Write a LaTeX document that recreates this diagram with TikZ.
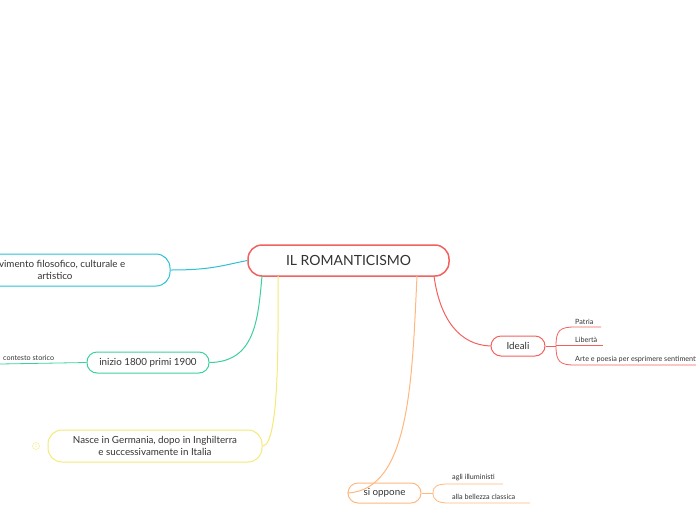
\documentclass[tikz,border=0pt]{standalone}
\usepackage{fontspec}
\setmainfont{Lato}
\definecolor{cred}{HTML}{F2615F}
\definecolor{ccyan}{HTML}{2BC0D5}
\definecolor{cgreen}{HTML}{3CCFA0}
\definecolor{cyel}{HTML}{F3EA78}
\definecolor{corg}{HTML}{FFB77E}
\definecolor{ctxt}{HTML}{333333}
\begin{document}
\begin{tikzpicture}[x=1pt,y=-1pt,
  box/.style={draw,rounded corners=11pt,line width=1pt,text=ctxt,font=\fontsize{9.8}{12}\selectfont,align=center,inner sep=0pt},
  lbl/.style={text=ctxt,font=\fontsize{7.2}{8}\selectfont,anchor=south west,inner sep=1pt},
  con/.style={line width=1pt}]
\useasboundingbox (0,0) rectangle (696,520);
\clip (0,0) rectangle (696,520);
\node[box,draw=cred,line width=1.5pt,minimum width=201pt,minimum height=31pt,font=\fontsize{14}{16}\selectfont,rounded corners=14pt] (main) at (348.5,260.5) {IL ROMANTICISMO};
\node[box,draw=ccyan,minimum width=230pt,minimum height=32pt,rounded corners=14pt] (mov) at (55,270) {Movimento filosofico, culturale e\\artistico};
\node[box,draw=cgreen,minimum width=122pt,minimum height=21pt,rounded corners=10pt] (ini) at (148,362.5) {inizio 1800 primi 1900};
\node[box,draw=cyel,minimum width=214pt,minimum height=32pt,rounded corners=14pt] (nas) at (155,446) {Nasce in Germania, dopo in Inghilterra\\e successivamente in Italia};
\node[draw=cyel,circle,minimum size=7pt,inner sep=0pt,font=\fontsize{4}{4}\selectfont,text=cyel] (one) at (36,446) {1};
\node[box,draw=cred,minimum width=54pt,minimum height=20pt,rounded corners=10pt] (ide) at (518,346) {Ideali};
\node[box,draw=corg,minimum width=73pt,minimum height=20pt,rounded corners=10pt] (opp) at (384.5,493) {si oppone};
% main connectors
\draw[con,ccyan] (mov.east) .. controls (210,270) and (220,266) .. (main.west);
\draw[con,cgreen] (ini.east) .. controls (255,362) and (258,320) .. (262,276);
\draw[con,cyel] (nas.east) .. controls (280,446) and (278,330) .. (278,276);
\draw[con,cred] (434,276) .. controls (440,320) and (460,345) .. (ide.west);
\draw[con,corg] (417,276) .. controls (412,380) and (410,490) .. (opp.west);
% contesto storico
\coordinate (cs) at (0,364);
\draw[cgreen,line width=0.8pt] (ini.west) -- (cs);
\node[lbl] at (2,362) {contesto storico};
% ideali subs
\coordinate (ib) at (556,346);
\coordinate (p1) at (601,327);\coordinate (p2) at (603,345);\coordinate (p3) at (700,365);
\draw[cred,line width=0.8pt] (ide.east) -- (ib);
\draw[cred,line width=0.8pt] (ib) .. controls (556,330) and (560,327) .. (575,327) -- (p1);
\draw[cred,line width=0.8pt] (ib) -- (556,345) -- (p2);
\draw[cred,line width=0.8pt] (ib) .. controls (556,362) and (560,365) .. (575,365) -- (p3);
\node[lbl] at (574,326) {Patria};
\node[lbl] at (574,344) {Libertà};
\node[lbl] at (574,363.5) {Arte e poesia per esprimere sentimenti};
% si oppone subs
\coordinate (ob) at (433,493);
\coordinate (q1) at (503,484);\coordinate (q2) at (530,503);
\draw[corg,line width=0.8pt] (opp.east) -- (ob);
\draw[corg,line width=0.8pt] (ob) .. controls (433,486) and (438,484) .. (448,484) -- (q1);
\draw[corg,line width=0.8pt] (ob) .. controls (433,500) and (438,503) .. (448,503) -- (q2);
\node[lbl] at (451,482) {agli illuministi};
\node[lbl] at (451,501) {alla bellezza classica};
\end{tikzpicture}
\end{document}
